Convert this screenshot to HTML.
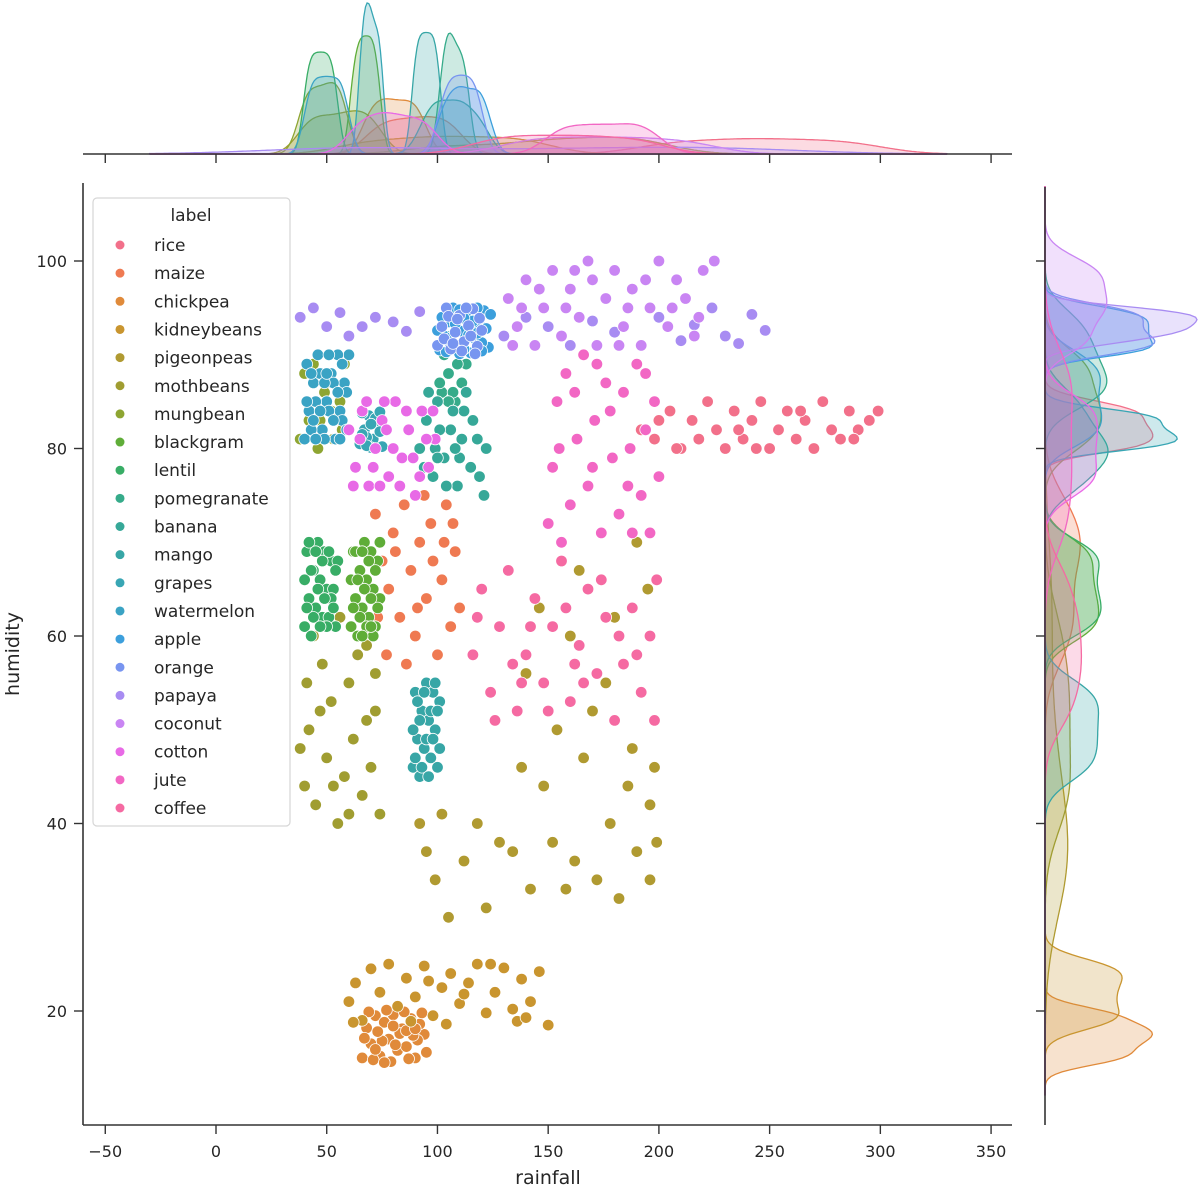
<!DOCTYPE html>
<html><head><meta charset="utf-8"><style>
body{margin:0;background:#fff;}
svg text{font-family:"DejaVu Sans","Liberation Sans",sans-serif;fill:#262626;}
</style></head><body>
<svg id="chart" width="1200" height="1187" viewBox="0 0 1200 1187" xmlns="http://www.w3.org/2000/svg">
<g id="topm"></g>
<g id="rightm"></g>
<g id="pts"></g>
<g id="axes"></g>
<g id="legend"></g>
</svg>
<script>
const labels = ["rice","maize","chickpea","kidneybeans","pigeonpeas","mothbeans","mungbean","blackgram","lentil","pomegranate","banana","mango","grapes","watermelon","apple","orange","papaya","coconut","cotton","jute","coffee"];
const colors = ["#f2708a","#ef7a52","#e08a3a","#c9952f","#b09a31","#a09d31","#8ea532","#5fad38","#38ad66","#36ab8a","#36a898","#37a6a6","#38a6b4","#3aa3c4","#3c9fdc","#7895f0","#a88cf2","#c985f3","#e86ae6","#f267c4","#f56aa2"];
const rice = "192 82,198 81,205 84,210 80,215 83,218 81,222 85,226 82,230 80,234 84,238 81,242 83,246 85,250 80,254 82,258 84,262 81,266 83,270 80,274 85,278 82,282 81,286 84,290 82,295 83,299 84,208 80,236 82,264 84,288 81,200 83,244 80";
const maize = "67 70,72 73,75 68,78 65,80 71,83 62,85 74,88 67,90 60,92 70,95 64,97 72,100 58,102 66,104 74,106 61,108 69,110 63,73 62,86 57,98 68,70 60,94 75,81 69,103 70,77 58,91 63,107 72";
const chickpea = "66 15,70 16.5,74 15.2,78 17,82 15.8,86 16.2,90 15,94 17.5,68 18.2,72 19.5,76 18.8,80 19.6,84 18.1,88 19.2,92 18.6,67 17.1,71 14.8,75 16.8,79 14.6,83 17.6,87 14.9,91 16.9,95 15.6,69 19.9,73 17.8,77 20.1,81 16.4,85 19.9,89 17.4,93 19.8,72 15.9,80 18.4,86 17.9,76 14.5,90 18.1";
const kidneybeans = "60 21,63 23,66 19,70 24.5,74 22,78 25,82 20.5,86 23.5,90 21.5,94 24.8,98 19.5,102 22.5,106 24,110 20.8,114 23,118 25,122 19.8,126 22,130 24.6,134 20.2,138 23.4,142 21,146 24.2,150 18.5,62 18.8,104 18.6,124 25,136 18.9,112 21.8,88 18.9,140 19.3,96 23.2";
const pigeonpeas = "92 40,95 37,99 34,102 41,105 30,112 36,118 40,122 31,128 38,134 37,138 46,142 33,148 44,152 38,158 33,162 36,166 47,172 34,178 40,182 32,186 44,190 37,196 34,199 38,154 50,170 52,188 48,196 42,140 56,160 60,180 62,195 65,190 70,164 67,146 63,176 55,198 46";
const mothbeans = "40 44,42 50,45 42,48 57,50 47,52 53,55 40,58 45,60 55,62 49,64 58,66 43,68 51,70 46,72 56,74 41,44 60,56 62,64 63,41 55,47 52,53 44,68 59,72 52,60 41,38 48";
const mungbean = "38 81,41 85,44 89,47 83,50 87,53 81,56 85,58 89,40 88,46 80,52 84,55 90,42 83,49 86,57 82";
const blackgram = "61 61,63 64,65 67,67 70,69 62,71 65,73 68,62 69,64 60,66 63,68 66,70 69,72 61,74 64,61 66,63 69,65 62,67 65,69 68,71 60,73 63,62 63,64 66,66 69,68 61,70 64,72 67,74 70,66 60,70 61";
const lentil = "40 61,42 64,44 67,46 70,48 62,50 65,52 68,54 61,41 69,43 60,45 63,47 66,49 69,51 62,53 65,55 68,40 66,42 70,44 62,46 65,48 68,50 61,52 64,54 67,41 63,43 67,47 61,49 64,51 69,53 63,45 69";
const pomegranate = "102 86,105 88,108 85,111 87,113 89,103 90,106 92,110 91,112 94,104 94,107 86,109 89,101 87,114 92,105 85";
const banana = "92 80,95 83,98 77,100 85,103 79,106 82,109 76,112 84,115 78,118 81,121 75,96 86,101 82,104 76,107 84,110 79,113 86,116 83,119 77,94 78,99 80,108 80,122 80,111 81,100 79";
const mango = "89 46,91 49,93 52,95 55,97 47,99 50,101 53,90 54,92 45,94 48,96 51,98 54,100 46,89 50,91 53,93 46,95 49,97 52,99 55,101 48,90 47,92 51,94 54,96 45,98 49,100 52";
const grapes = "65 80.5,67 82,69 83.5,71 81,73 82.8,75 80.2,66 83.8,68 81.2,70 80.1,72 83.2,74 81.8,66 81.5,70 82.6,74 83.9,68 80.3";
const watermelon = "40 81,42 84,44 87,46 90,48 82,50 85,52 88,54 81,56 84,58 87,60 90,41 89,43 82,45 85,47 88,49 81,51 84,53 87,55 90,57 83,59 86,41 85,43 88,45 81,47 84,49 87,51 90,53 83,55 86,57 89,59 82,44 83,50 88,56 81";
const apple = "101 90.5,103 92,105 93.5,107 95,109 91,111 92.5,113 94,115 90.2,117 91.7,119 93.2,121 94.7,123 90.8,102 94,104 90.3,106 91.8,108 93.3,110 94.8,112 90.6,114 92.1,116 93.6,118 95,120 91.3,122 92.8,124 94.3,106 90.9,112 93.9,118 92.3,100 92.6,110 90.1,120 90.4";
const orange = "100 91,102 93,104 95,106 90.6,108 92.4,110 94.2,112 91.4,114 93.1,116 94.9,118 90.9,120 92.6,103 91.7,105 94.1,107 91.2,109 93.8,111 90.4,113 95,115 92,117 90.1,119 93.9";
const papaya = "38 94,44 95,50 93,56 94.5,60 92,66 93,72 94,80 93.5,86 92.5,92 94.6,130 92,140 94,150 93,160 91,170 93.6,180 92.4,200 94,210 91.5,216 93.2,224 95,230 92,236 91.2,242 94.3,248 92.6,196 95";
const coconut = "132 96,136 93,140 98,144 91,148 95,152 99,156 92,160 97,164 94,168 100,172 91,176 96,180 99,184 93,188 97,192 91,196 95,200 100,204 93,208 98,212 96,216 92,220 99,225 100,134 91,146 97,158 95,170 98,182 91,194 98,206 95,218 94,138 95,162 99,186 95";
const cotton = "60 82,63 78,66 84,69 76,72 80,75 83,78 77,81 85,84 79,87 82,90 75,93 84,96 78,99 81,62 76,65 81,68 85,71 78,74 76,77 82,80 80,83 76,86 84,89 79,92 77,95 81,98 84,76 85";
const jute = "150 72,152 78,154 85,156 70,158 88,160 74,163 81,166 90,168 76,171 83,174 71,176 87,179 79,182 73,184 86,187 80,190 89,192 75,194 82,196 71,198 85,200 77,155 80,162 86,170 78,178 84,186 76,194 88,188 71,172 89";
const coffee = "116 58,120 65,124 54,128 61,132 67,136 52,140 58,144 64,148 55,152 61,156 68,160 53,164 59,168 65,172 56,176 62,180 51,184 57,188 63,192 54,196 60,199 66,118 62,126 51,134 57,142 61,150 52,158 63,166 55,174 66,182 60,190 58,198 51,138 55,162 57";
const seriesRaw = [rice,maize,chickpea,kidneybeans,pigeonpeas,mothbeans,mungbean,blackgram,lentil,pomegranate,banana,mango,grapes,watermelon,apple,orange,papaya,coconut,cotton,jute,coffee];
const xTicks = [-50,0,50,100,150,200,250,300,350];
const yTicks = [20,40,60,80,100];

const NS="http://www.w3.org/2000/svg";
function mk(tag,attrs,parent){const e=document.createElementNS(NS,tag);for(const k in attrs)e.setAttribute(k,attrs[k]);parent.appendChild(e);return e;}
const X=v=>216+(v)*2.2145;
const Y=v=>261+(100-v)*9.375;
const series=seriesRaw.map(s=>s.split(",").map(p=>p.trim().split(/\s+/).map(Number)));

function kde(vals,grid){const n=vals.length;const m=vals.reduce((a,b)=>a+b,0)/n;
 const sd=Math.sqrt(vals.reduce((a,b)=>a+(b-m)*(b-m),0)/(n-1));const bw=sd*Math.pow(n,-0.2);
 return grid.map(g=>{let s=0;for(const v of vals){const z=(g-v)/bw;s+=Math.exp(-0.5*z*z);}return s/(n*bw*Math.sqrt(2*Math.PI));});}
const gx=[],gy=[];for(let v=-30;v<=330;v+=0.75)gx.push(v);for(let v=11;v<=108;v+=0.25)gy.push(v);
const dx=series.map(s=>kde(s.map(p=>p[0]),gx));const dy=series.map(s=>kde(s.map(p=>p[1]),gy));
const mx=Math.max(...dx.flat()),my=Math.max(...dy.flat());
const topG=document.getElementById('topm'),rightG=document.getElementById('rightm');
series.forEach((s,i)=>{
 let d="M"+X(gx[0])+",154";gx.forEach((g,j)=>{d+=" L"+X(g).toFixed(1)+","+(154-dx[i][j]/mx*151).toFixed(1);});d+=" L"+X(gx[gx.length-1])+",154 Z";
 const p=mk('path',{d:d,fill:colors[i],'fill-opacity':0.25,stroke:colors[i],'stroke-width':1.3},topG);
 
 
 let d2="M1045,"+Y(gy[0]).toFixed(1);gy.forEach((g,j)=>{d2+=" L"+(1045+dy[i][j]/my*152).toFixed(1)+","+Y(g).toFixed(1);});d2+=" L1045,"+Y(gy[gy.length-1]).toFixed(1)+" Z";
 const p2=mk('path',{d:d2,fill:colors[i],'fill-opacity':0.25,stroke:colors[i],'stroke-width':1.3},rightG);
 
 
});
const ptsG=document.getElementById('pts');
series.forEach((s,i)=>s.forEach(p=>{
 const c=mk('circle',{cx:X(p[0]).toFixed(1),cy:Y(p[1]).toFixed(1),r:5.8,fill:colors[i],stroke:'#fff','stroke-width':0.8},ptsG);
 
 
}));
const ax=document.getElementById('axes');
mk('line',{x1:83,y1:183,x2:83,y2:1125,stroke:'#333','stroke-width':1.6},ax);
mk('line',{x1:83,y1:1125,x2:1012,y2:1125,stroke:'#333','stroke-width':1.6},ax);
mk('line',{x1:83,y1:154,x2:1012,y2:154,stroke:'#333','stroke-width':1.6},ax);
mk('line',{x1:1045,y1:187,x2:1045,y2:1125,stroke:'#333','stroke-width':1.6},ax);
xTicks.forEach(t=>{const x=X(t);
 mk('line',{x1:x,y1:1125,x2:x,y2:1134,stroke:'#333','stroke-width':1.4},ax);
 mk('line',{x1:x,y1:154,x2:x,y2:163,stroke:'#333','stroke-width':1.4},ax);
 const tx=mk('text',{x:x,y:1157,'text-anchor':'middle','font-size':16},ax);tx.textContent=(t<0?'\u2212'+(-t):t);
 
 
});
yTicks.forEach(t=>{const y=Y(t);
 mk('line',{x1:74,y1:y,x2:83,y2:y,stroke:'#333','stroke-width':1.4},ax);
 mk('line',{x1:1036,y1:y,x2:1045,y2:y,stroke:'#333','stroke-width':1.4},ax);
 const tx=mk('text',{x:67,y:y+6,'text-anchor':'end','font-size':16},ax);tx.textContent=t;
 
 
});
const xl=mk('text',{x:548,y:1184,'text-anchor':'middle','font-size':19},ax);xl.textContent='rainfall';


const yl=mk('text',{x:0,y:0,'text-anchor':'middle','font-size':19,transform:'translate(19,654) rotate(-90)'},ax);yl.textContent='humidity';


const lg=document.getElementById('legend');
mk('rect',{x:93,y:198,width:197,height:628,rx:4,fill:'#fff','fill-opacity':0.85,stroke:'#d6d6d6','stroke-width':1.2},lg);
const lt=mk('text',{x:191,y:221,'text-anchor':'middle','font-size':17},lg);lt.textContent='label';


labels.forEach((l,i)=>{const y=245+i*28.15;
 const g=mk('g',{},lg);
 
 
 mk('circle',{cx:120,cy:y,r:4.5,fill:colors[i]},g);
 const t=mk('text',{x:154,y:y+6,'font-size':17},g);t.textContent=l;
});
</script>
</body></html>
